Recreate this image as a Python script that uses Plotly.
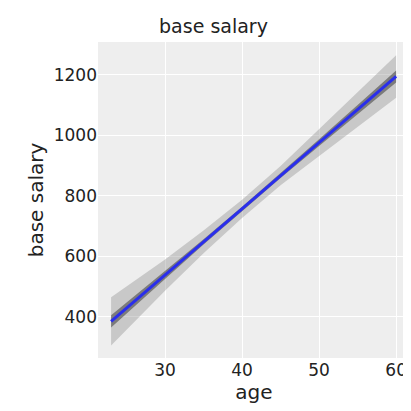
import plotly.graph_objects as go

age = [23, 30, 35, 40, 45, 50, 55, 60]
mean_salary = [385, 538, 648, 757, 867, 976, 1086, 1195]
hdi94_half = [80, 52, 38, 30, 32, 44, 57, 70]
hdi50_half = [20, 13, 9, 7, 8, 11, 15, 20]

def band(half, color):
    lo = [m - h for m, h in zip(mean_salary, half)]
    hi = [m + h for m, h in zip(mean_salary, half)]
    return go.Scatter(x=age + age[::-1], y=hi + lo[::-1], fill="toself",
                      fillcolor=color, line=dict(width=0), mode="lines",
                      hoverinfo="skip", showlegend=False)

fig = go.Figure()
fig.add_trace(band(hdi94_half, "rgba(128,128,128,0.35)"))
fig.add_trace(band(hdi50_half, "rgba(60,60,60,0.55)"))
fig.add_trace(go.Scatter(x=age, y=mean_salary, mode="lines",
                         line=dict(color="#2a2eec", width=3), showlegend=False))

fig.update_layout(
    width=411, height=411,
    margin=dict(l=90, r=9, t=34, b=61, autoexpand=False),
    paper_bgcolor="white", plot_bgcolor="#eeeeee",
    font=dict(family="DejaVu Sans", size=17, color="#222222"),
    title=dict(text="base salary", x=0.5, xanchor="center", y=0.955, yanchor="middle",
               font=dict(size=19)),
    xaxis=dict(title=dict(text="age", standoff=2), range=[21.3, 61.8], automargin=False,
               tickvals=[30, 40, 50, 60], gridcolor="white", gridwidth=1.2,
               zeroline=False, showline=False),
    yaxis=dict(title=dict(text="base salary", standoff=4), range=[264, 1309], automargin=False,
               tickvals=[400, 600, 800, 1000, 1200], gridcolor="white", gridwidth=1.2,
               zeroline=False, showline=False),
)
fig.write_html("out.html")
